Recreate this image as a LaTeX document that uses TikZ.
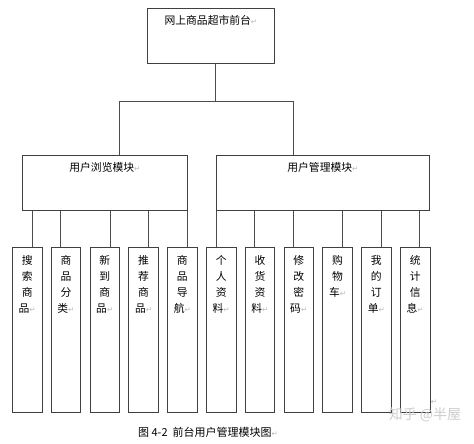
\documentclass[tikz,border=0pt]{standalone}
\usepackage{fontspec}
\setmainfont{Noto Sans CJK SC}
\newfontfamily\symfont{DejaVu Sans}
\usetikzlibrary{calc}

\newcommand{\pmark}{{\symfont\fontsize{7.5}{7.5}\selectfont\textcolor{gray!55}{↵}}}

\tikzset{
  box/.style={draw=black!75, line width=0.8pt, anchor=north west, inner sep=0pt},
  leaf/.style={box, minimum width=29.5pt, minimum height=165pt},
  boxtext/.style={anchor=north, inner sep=7pt, font=\fontsize{10.8}{16}\selectfont, align=center},
  link/.style={draw=black!70, line width=0.8pt}
}

\begin{document}
\begin{tikzpicture}[x=1pt,y=-1pt]
    \useasboundingbox (0,0) rectangle (474,444);

    % top and second level
    \node[box, minimum width=127pt, minimum height=55pt,
      label={[boxtext]north:{网上商品超市前台\pmark}}] (shop) at (147,8) {};
    \node[box, minimum width=165pt, minimum height=55pt,
      label={[boxtext]north:{用户浏览模块\pmark}}] (browse) at (22,155) {};
    \node[box, minimum width=213pt, minimum height=55pt,
      label={[boxtext]north:{用户管理模块\pmark}}] (manage) at (216,155) {};

    \coordinate (bus) at (0,101);
    \coordinate (shop-out) at ($ (shop.south west)!0.535!(shop.south east) $);
    \coordinate (browse-in) at ($ (browse.north west)!0.588!(browse.north east) $);
    \coordinate (manage-in) at ($ (manage.north west)!0.36!(manage.north east) $);
    \draw[link] (shop-out) -- (shop-out |- bus);
    \draw[link] (browse-in) -- (browse-in |- bus) -- (manage-in |- bus) -- (manage-in);

    % leaves
    \foreach \n/\txt/\f/\p [count=\i from 0] in {
        search/{搜\\索\\商\\品}/0.67/browse,
        sort/{商\\品\\分\\类}/0.33/browse,
        new/{新\\到\\商\\品}/0.67/browse,
        hot/{推\\荐\\商\\品}/0.67/browse,
        nav/{商\\品\\导\\航}/0.67/browse,
        info/{个\\人\\资\\料}/0.33/manage,
        addr/{收\\货\\资\\料}/0.33/manage,
        pwd/{修\\改\\密\\码}/0.31/manage,
        cart/{购\\物\\车}/0.67/manage,
        order/{我\\的\\订\\单}/0.67/manage,
        stat/{统\\计\\信\\息}/0.65/manage} {
      \node[leaf, label={[boxtext, inner sep=8pt]north:{\txt\pmark}}] (\n) at ({12+38.8*\i},247) {};
      \coordinate (\n-in) at ($ (\n.north west)!\f!(\n.north east) $);
      \draw[link] (\n-in) -- (\n-in |- \p.south);
    }

    \node[inner sep=0pt] (endmark) at (434,402) {\pmark};
    \node[text=gray!40, font=\fontsize{14}{14}\selectfont] (zhihu) at (425,415) {知乎 @半屋};
    \node[font=\fontsize{11}{12}\selectfont] (caption) at (208,432) {图 4-2\ \ 前台用户管理模块图\pmark};
\end{tikzpicture}
\end{document}
